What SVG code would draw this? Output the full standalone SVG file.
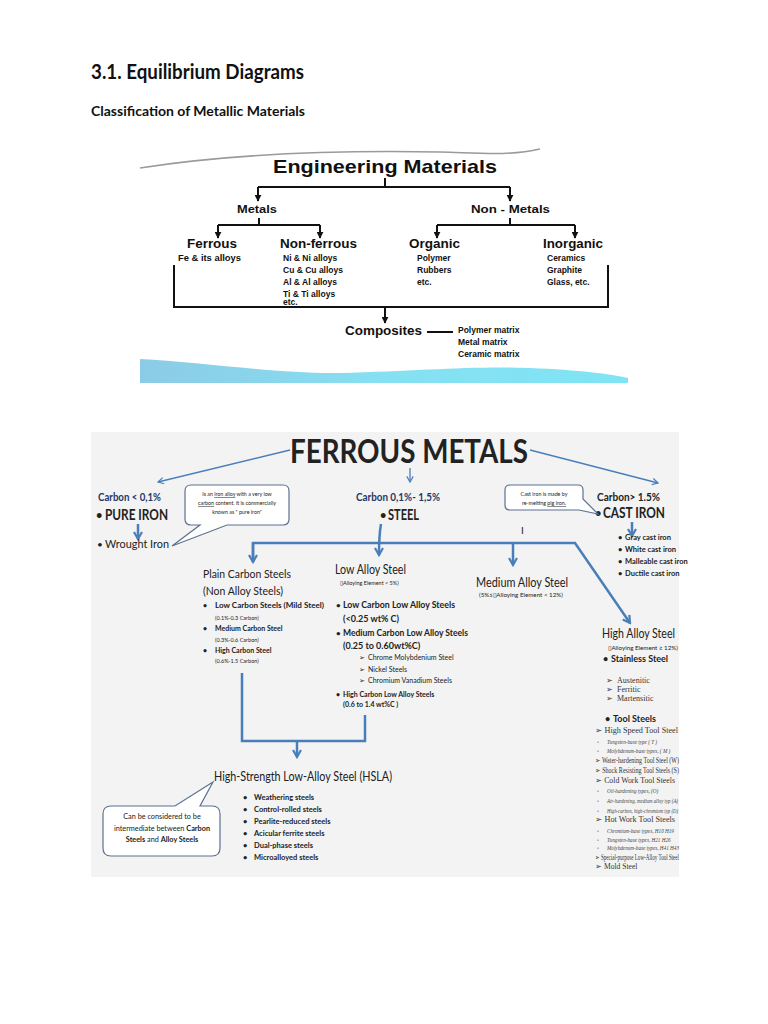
<svg xmlns="http://www.w3.org/2000/svg" width="768" height="1024" viewBox="0 0 768 1024">
<defs>
<marker id="ab" viewBox="0 0 10 10" refX="9" refY="5" markerWidth="7" markerHeight="7" markerUnits="userSpaceOnUse" orient="auto"><path d="M0,0 L10,5 L0,10 Z" fill="#111"/></marker>
<marker id="bl" viewBox="0 0 10 10" refX="8" refY="5" markerWidth="10" markerHeight="10" markerUnits="userSpaceOnUse" orient="auto"><path d="M1,1 L8,5 L1,9" fill="none" stroke="#4a7ebb" stroke-width="2.2"/></marker>
<marker id="bt" viewBox="0 0 10 10" refX="8" refY="5" markerWidth="8" markerHeight="8" markerUnits="userSpaceOnUse" orient="auto"><path d="M1,1 L8,5 L1,9" fill="none" stroke="#4a7ebb" stroke-width="1.5"/></marker>
<linearGradient id="wave" x1="0" x2="1" y1="0" y2="0"><stop offset="0" stop-color="#8ccbe6"/><stop offset="0.5" stop-color="#86e0f2"/><stop offset="1" stop-color="#7fe4f4"/></linearGradient>
<style>
.h{font-family:Lato,"Liberation Sans",sans-serif;font-weight:bold;fill:#111}
.a{font-family:"Liberation Sans",Arial,sans-serif;font-weight:bold;fill:#111}
.c{font-family:Lato,"Open Sans",sans-serif;fill:#222}
.cb{font-family:Lato,"Open Sans",sans-serif;font-weight:bold;fill:#222}
.nv{font-family:Lato,"Open Sans",sans-serif;font-weight:bold;fill:#1f3864}
.s{font-family:"Liberation Serif","Times New Roman",serif;fill:#333}
.si{font-family:"Liberation Serif","Times New Roman",serif;font-style:italic;fill:#444}
.k{stroke:#111;stroke-width:2;fill:none}
.b{stroke:#4a7ebb;stroke-width:2.5;fill:none}
.bthin{stroke:#4a7ebb;stroke-width:1.3;fill:none}
.bub{fill:#fff;stroke:#5b7290;stroke-width:1.2}
</style>
</defs>
<rect width="768" height="1024" fill="#fff"/>
<g id="heading">
<text class="h" x="91" y="79" font-size="20" textLength="213" lengthAdjust="spacingAndGlyphs">3.1. Equilibrium Diagrams</text>
<text class="h" x="91" y="116" font-size="14" textLength="214" lengthAdjust="spacingAndGlyphs">Classification of Metallic Materials</text>
</g>
<g id="top-decor">
<path d="M140,168 C230,154 330,150 440,152 C480,153 510,156 540,149" fill="none" stroke="#9a9a9a" stroke-width="1.5"/>
<path d="M140,359 C200,362 280,374 340,373 C420,371 470,366 530,368 C580,370 610,374 628,378 L628,383 L140,383 Z" fill="url(#wave)"/>
</g>
<g id="top-connectors">
<path class="k" d="M385,178 V187 M258,187 H510"/>
<path class="k" d="M258,187 V201" marker-end="url(#ab)"/>
<path class="k" d="M510,187 V201" marker-end="url(#ab)"/>
<path class="k" d="M259,218 V225 M218,225 H320" stroke-width="2"/>
<path class="k" d="M218,225 V238" marker-end="url(#ab)"/>
<path class="k" d="M320,225 V238" marker-end="url(#ab)"/>
<path class="k" d="M510,218 V225 M437,225 H575"/>
<path class="k" d="M437,225 V238" marker-end="url(#ab)"/>
<path class="k" d="M575,225 V238" marker-end="url(#ab)"/>
<path class="k" d="M174,265 V307 H608 V265"/>
<path class="k" d="M385,307 V323" marker-end="url(#ab)"/>
<path class="k" d="M427,332 H453" stroke-width="1.2"/>
</g>
<g id="engineering-materials"><text class="a" x="273" y="173" font-size="19" textLength="224" lengthAdjust="spacingAndGlyphs">Engineering Materials</text></g>
<g id="metals"><text class="a" x="237" y="213" font-size="11" textLength="40" lengthAdjust="spacingAndGlyphs">Metals</text></g>
<g id="non-metals"><text class="a" x="471" y="213" font-size="11" textLength="79" lengthAdjust="spacingAndGlyphs">Non - Metals</text></g>
<g id="ferrous"><text class="a" x="187" y="248" font-size="12" textLength="50" lengthAdjust="spacingAndGlyphs">Ferrous</text>
<text class="a" x="178" y="261" font-size="8.5" textLength="63" lengthAdjust="spacingAndGlyphs">Fe &amp; its alloys</text></g>
<g id="non-ferrous"><text class="a" x="280" y="248" font-size="12" textLength="77" lengthAdjust="spacingAndGlyphs">Non-ferrous</text>
<g font-size="8.5">
<text class="a" x="283" y="261">Ni &amp; Ni alloys</text>
<text class="a" x="283" y="273">Cu &amp; Cu alloys</text>
<text class="a" x="283" y="285">Al &amp; Al alloys</text>
<text class="a" x="283" y="297">Ti &amp; Ti alloys</text>
<text class="a" x="283" y="305">etc.</text></g></g>
<g id="organic"><text class="a" x="409" y="248" font-size="12" textLength="51" lengthAdjust="spacingAndGlyphs">Organic</text>
<g font-size="8.5">
<text class="a" x="417" y="261">Polymer</text>
<text class="a" x="417" y="273">Rubbers</text>
<text class="a" x="417" y="285">etc.</text></g></g>
<g id="inorganic"><text class="a" x="543" y="248" font-size="12" textLength="60" lengthAdjust="spacingAndGlyphs">Inorganic</text>
<g font-size="8.5">
<text class="a" x="547" y="261">Ceramics</text>
<text class="a" x="547" y="273">Graphite</text>
<text class="a" x="547" y="285">Glass, etc.</text></g></g>
<g id="composites"><text class="a" x="345" y="335" font-size="12" textLength="77" lengthAdjust="spacingAndGlyphs">Composites</text>
<g font-size="8.5">
<text class="a" x="458" y="333">Polymer matrix</text>
<text class="a" x="458" y="345">Metal matrix</text>
<text class="a" x="458" y="357">Ceramic matrix</text></g></g>

<rect x="91" y="432" width="588" height="445" fill="#f3f3f3"/>
<g id="ferrous-connectors">
<path class="bthin" d="M290,450 L158,482" marker-end="url(#bt)"/>
<path class="bthin" d="M410,468 V482" marker-end="url(#bt)"/>
<path class="bthin" d="M530,450 L658,483" marker-end="url(#bt)"/>
<path class="b" d="M138,524 V539" marker-end="url(#bl)"/>
<path class="b" d="M632,522 V536" marker-end="url(#bl)"/>
<path class="b" d="M381,524 Q379,535 379,555" marker-end="url(#bl)"/>
<path class="b" d="M253,562 V543 H575 L630,623" marker-end="url(#bl)"/>
<path class="b" d="M253,543 V562" marker-end="url(#bl)"/>
<path class="b" d="M513,543 V565" marker-end="url(#bl)"/>
<path class="b" d="M242,673 V741 H365 V715"/>
<path class="b" d="M297,741 V757" marker-end="url(#bl)"/>
</g>
<g id="ferrous-metals-title"><text class="cb" x="290" y="463" font-size="32" fill="#111" textLength="238" lengthAdjust="spacingAndGlyphs">FERROUS METALS</text></g>
<g id="pure-iron">
<text class="nv" x="98" y="501" font-size="11" textLength="63" lengthAdjust="spacingAndGlyphs">Carbon &lt; 0,1%</text>
<text class="cb" x="96" y="519" font-size="11" fill="#111">•</text>
<text class="cb" x="105" y="520" font-size="15" fill="#111" textLength="63" lengthAdjust="spacingAndGlyphs">PURE IRON</text>
</g>
<g id="wrought-iron">
<text class="c" x="97" y="548" font-size="10">•</text>
<text class="c" x="105" y="548" font-size="12" textLength="64" lengthAdjust="spacingAndGlyphs">Wrought  Iron</text>
</g>
<g id="callout-pure-iron">
<path class="bub" d="M191,485 H283 Q289,485 289,491 V519 Q289,525 283,525 H227 L172,546 L200,525 H191 Q185,525 185,519 V491 Q185,485 191,485 Z"/>
<text class="c" font-size="5.3" text-anchor="middle"><tspan x="237" y="496">Is an <tspan text-decoration="underline">iron alloy</tspan> with a very low</tspan><tspan x="237" y="505"><tspan text-decoration="underline">carbon</tspan> content. It is commercially</tspan><tspan x="237" y="514">known as " pure iron"</tspan></text>
</g>
<g id="steel">
<text class="nv" x="356" y="501" font-size="11" textLength="84" lengthAdjust="spacingAndGlyphs">Carbon 0,1%- 1,5%</text>
<text class="cb" x="380" y="519" font-size="11" fill="#111">•</text>
<text class="cb" x="388" y="520" font-size="15" fill="#111" textLength="31" lengthAdjust="spacingAndGlyphs">STEEL</text>
<text class="c" x="521" y="534" font-size="10" fill="#111">I</text>
</g>
<g id="cast-iron">
<text class="cb" x="597" y="501" font-size="11" fill="#111" textLength="63" lengthAdjust="spacingAndGlyphs">Carbon&gt; 1.5%</text>
<text class="cb" x="595" y="517" font-size="11" fill="#111">•</text>
<text class="cb" x="603" y="518" font-size="15" fill="#111" textLength="62" lengthAdjust="spacingAndGlyphs">CAST IRON</text>
<g font-size="7.5"><text class="cb" x="618" y="540">•</text><text class="cb" x="625" y="540">Gray cast iron</text>
<text class="cb" x="618" y="552">•</text><text class="cb" x="625" y="552">White cast iron</text>
<text class="cb" x="618" y="564">•</text><text class="cb" x="625" y="564">Malleable cast iron</text>
<text class="cb" x="618" y="576">•</text><text class="cb" x="625" y="576">Ductile cast iron</text></g>
</g>
<g id="callout-cast-iron">
<path class="bub" d="M510,485 H578 Q583,485 583,490 V499 L598,514 L579,510 H510 Q505,510 505,505 V490 Q505,485 510,485 Z"/>
<text class="c" font-size="5.3" text-anchor="middle"><tspan x="544" y="496">Cast iron is made by</tspan><tspan x="544" y="505">re-melting <tspan text-decoration="underline">pig iron.</tspan></tspan></text>
</g>
<g id="plain-carbon-steels">
<text class="c" x="203" y="578" font-size="12" textLength="88" lengthAdjust="spacingAndGlyphs">Plain Carbon Steels</text>
<text class="c" x="203" y="595" font-size="12" textLength="80" lengthAdjust="spacingAndGlyphs">(Non Alloy Steels)</text>
<text class="cb" x="203" y="608" font-size="7">•</text><text class="cb" x="215" y="608" font-size="6.5" textLength="109" lengthAdjust="spacingAndGlyphs">Low Carbon Steels (Mild Steel)</text>
<text class="c" x="215" y="620" font-size="5.5">(0.1%-0.3 Carbon)</text>
<text class="cb" x="203" y="631" font-size="7">•</text><text class="cb" x="215" y="631" font-size="7">Medium Carbon Steel</text>
<text class="c" x="215" y="642" font-size="5.5">(0.3%-0.6 Carbon)</text>
<text class="cb" x="203" y="653" font-size="7">•</text><text class="cb" x="215" y="653" font-size="7">High Carbon Steel</text>
<text class="c" x="215" y="663" font-size="5.5">(0.6%-1.5 Carbon)</text>
</g>
<g id="low-alloy-steel">
<text class="c" x="335" y="574" font-size="12.5" textLength="71" lengthAdjust="spacingAndGlyphs">Low Alloy Steel</text>
<text class="c" x="340" y="585" font-size="5.5">▯Alloying Element &lt; 5%)</text>
<text class="cb" x="336" y="608" font-size="8">•</text><text class="cb" x="343" y="608" font-size="8.5" textLength="112" lengthAdjust="spacingAndGlyphs">Low Carbon Low Alloy Steels</text>
<text class="cb" x="343" y="622" font-size="9">(&lt;0.25 wt% C)</text>
<text class="cb" x="336" y="636" font-size="8">•</text><text class="cb" x="343" y="636" font-size="8.5" textLength="125" lengthAdjust="spacingAndGlyphs">Medium Carbon Low Alloy Steels</text>
<text class="cb" x="343" y="649" font-size="9">(0.25 to 0.60wt%C)</text>
<g font-size="7" fill="#555"><text class="c" x="359" y="660" fill="#555">➢</text><text class="c" x="368" y="660" fill="#555">Chrome Molybdenium Steel</text>
<text class="c" x="359" y="672" fill="#555">➢</text><text class="c" x="368" y="672" fill="#555">Nickel Steels</text>
<text class="c" x="359" y="683" fill="#555">➢</text><text class="c" x="368" y="683" fill="#555">Chromium Vanadium Steels</text></g>
<text class="cb" x="336" y="697" font-size="7">•</text><text class="cb" x="343" y="697" font-size="7">High Carbon Low Alloy Steels</text>
<text class="cb" x="343" y="707" font-size="7">(0.6 to 1.4 wt%C )</text>
</g>
<g id="medium-alloy-steel">
<text class="c" x="476" y="587" font-size="12.5" textLength="92" lengthAdjust="spacingAndGlyphs">Medium Alloy Steel</text>
<text class="c" x="479" y="597" font-size="5.5" textLength="84" lengthAdjust="spacingAndGlyphs">(5%≤▯Alloying Element &lt; 12%)</text>
</g>
<g id="high-alloy-steel">
<text class="c" x="602" y="638" font-size="12.5" textLength="73" lengthAdjust="spacingAndGlyphs">High Alloy Steel</text>
<text class="c" x="608" y="650" font-size="5.5" textLength="70" lengthAdjust="spacingAndGlyphs">▯Alloying Element ≥ 12%)</text>
<text class="cb" x="603" y="662" font-size="9">•</text><text class="cb" x="611" y="662" font-size="9">Stainless Steel</text>
<g font-size="8"><text class="s" x="606" y="683">➢</text><text class="s" x="617" y="683">Austenitic</text>
<text class="s" x="606" y="692">➢</text><text class="s" x="617" y="692">Ferritic</text>
<text class="s" x="606" y="701">➢</text><text class="s" x="617" y="701">Martensitic</text></g>
</g>
<g id="tool-steels">
<text class="cb" x="605" y="722" font-size="9">•</text><text class="cb" x="613" y="722" font-size="9">Tool Steels</text>
<g font-size="7.6">
<text class="s" x="595" y="733" textLength="83" lengthAdjust="spacingAndGlyphs">➢ High Speed Tool Steel</text>
<text class="s" x="595" y="763" textLength="84" lengthAdjust="spacingAndGlyphs">➢ Water-hardening Tool Steel (W)</text>
<text class="s" x="595" y="773" textLength="84" lengthAdjust="spacingAndGlyphs">➢ Shock Resisting Tool Steels (S)</text>
<text class="s" x="595" y="783" textLength="80" lengthAdjust="spacingAndGlyphs">➢ Cold Work Tool Steels</text>
<text class="s" x="595" y="822" textLength="80" lengthAdjust="spacingAndGlyphs">➢ Hot Work Tool Steels</text>
<text class="s" x="595" y="860" textLength="84" lengthAdjust="spacingAndGlyphs">➢ Special-purpose Low-Alloy Tool Steel</text>
<text class="s" x="595" y="869">➢ Mold Steel</text>
</g>
<g font-size="5.2">
<text class="s" x="597" y="744">▫</text><text class="si" x="607" y="744">Tungsten-base type ( T )</text>
<text class="s" x="597" y="753">▫</text><text class="si" x="607" y="753">Molybdenum-base types, ( M )</text>
<text class="s" x="597" y="793">▫</text><text class="si" x="607" y="793">Oil-hardening types, (O)</text>
<text class="s" x="597" y="803">▫</text><text class="si" x="607" y="803" textLength="71" lengthAdjust="spacingAndGlyphs">Air-hardening, medium alloy typ (A)</text>
<text class="s" x="597" y="813">▫</text><text class="si" x="607" y="813" textLength="71" lengthAdjust="spacingAndGlyphs">High-carbon, high-chromium typ (D)</text>
<text class="s" x="597" y="833">▫</text><text class="si" x="607" y="833">Chromium-base types, H10 H19</text>
<text class="s" x="597" y="842">▫</text><text class="si" x="607" y="842">Tungsten-base types, H21 H26</text>
<text class="s" x="597" y="850">▫</text><text class="si" x="607" y="850">Molybdenum-base types, H41 H43</text>
</g>
</g>
<g id="hsla">
<text class="c" x="214" y="781" font-size="12.5" fill="#111" textLength="178" lengthAdjust="spacingAndGlyphs">High-Strength Low-Alloy  Steel (HSLA)</text>
<g font-size="7.5">
<text class="cb" x="243" y="800">•</text><text class="cb" x="254" y="800">Weathering steels</text>
<text class="cb" x="243" y="812">•</text><text class="cb" x="254" y="812">Control-rolled steels</text>
<text class="cb" x="243" y="824">•</text><text class="cb" x="254" y="824">Pearlite-reduced steels</text>
<text class="cb" x="243" y="836">•</text><text class="cb" x="254" y="836">Acicular ferrite steels</text>
<text class="cb" x="243" y="848">•</text><text class="cb" x="254" y="848">Dual-phase steels</text>
<text class="cb" x="243" y="860">•</text><text class="cb" x="254" y="860">Microalloyed steels</text>
</g>
</g>
<g id="callout-hsla">
<path class="bub" d="M111,806 H175 L213,782 L200,806 H212 Q220,806 220,814 V848 Q220,856 212,856 H111 Q103,856 103,848 V814 Q103,806 111,806 Z"/>
<text class="c" font-size="7.3" text-anchor="middle" fill="#444"><tspan x="162" y="819">Can be considered to be</tspan><tspan x="162" y="831">intermediate between <tspan font-weight="bold" fill="#222">Carbon</tspan></tspan><tspan x="162" y="842"><tspan font-weight="bold" fill="#222">Steels</tspan> and <tspan font-weight="bold" fill="#222">Alloy Steels</tspan></tspan></text>
</g>
</svg>
